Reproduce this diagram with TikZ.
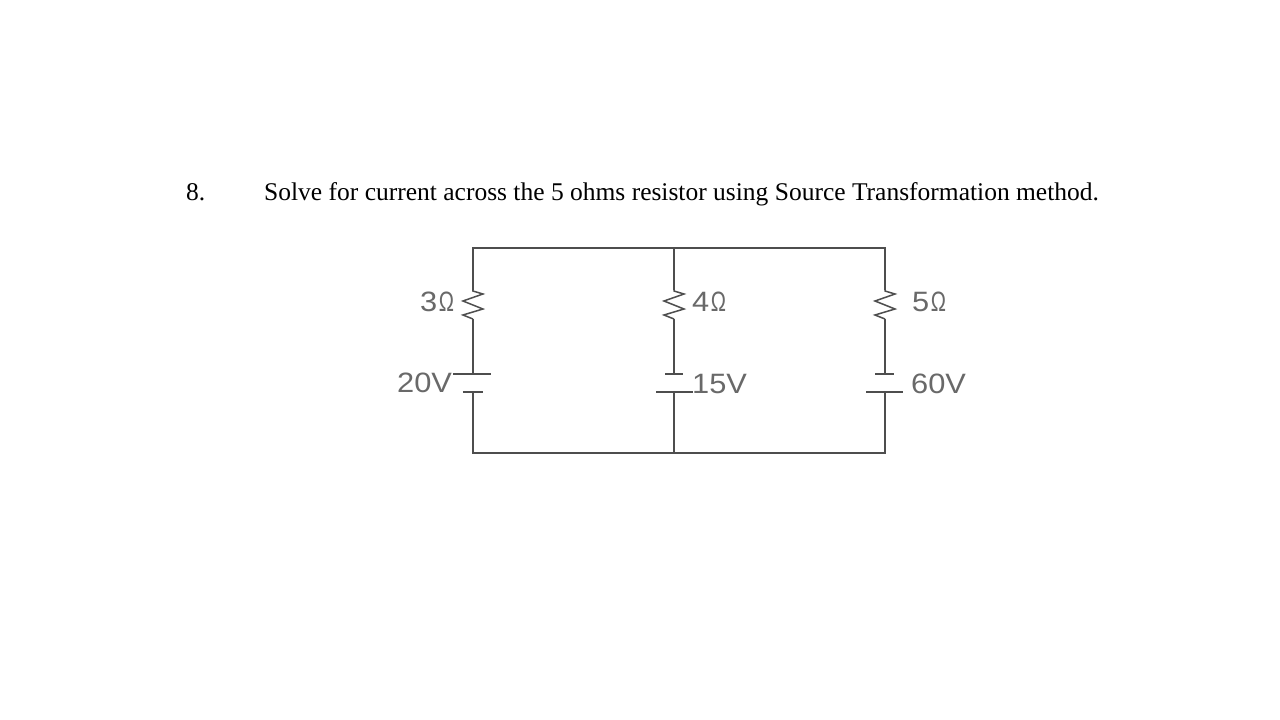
\documentclass[tikz,border=0pt]{standalone}
\usepackage{fontspec}
\setmainfont{Liberation Serif}
\newfontfamily\labelfont[FakeStretch=1.1]{Liberation Sans}
\definecolor{wirecol}{RGB}{78,78,78}
\definecolor{labelcol}{RGB}{105,105,105}
\newcommand{\ohmsign}{\hspace{1.5pt}\scalebox{0.66}[1]{Ω}}
\tikzset{
  wire/.style={draw=wirecol,line width=1.5pt,line join=miter},
  plate/.style={draw=wirecol,line width=1.5pt},
  printed/.style={inner sep=0pt,anchor=base west,text=black,font=\fontsize{25.5}{30}\selectfont},
  complabel/.style={inner sep=0pt,anchor=base west,text=labelcol,font=\labelfont\fontsize{28}{32}\selectfont},
  pics/zig/.style={code={
    \draw[wire] (0,0) -- (0,1) -- (10,4) -- (-10,11) -- (10,19) -- (-10,25) -- (0,29);
  }}
}
\begin{document}
\begin{tikzpicture}[x=1pt,y=-1pt]
\useasboundingbox[fill=white] (0,0) rectangle (1280,720);
% text
\node[printed] (num) at (186,200) {8.};
\node[printed] (task) at (264,200) {Solve for current across the 5 ohms resistor using Source Transformation method.};
% junctions
\coordinate (tl) at (472.9,248);
\coordinate (tm) at (674,248);
\coordinate (tr) at (885,248);
\coordinate (bl) at (472.9,453.1);
\coordinate (bm) at (674,453.1);
\coordinate (br) at (885,453.1);
\coordinate (r1t) at (472.9,290); \coordinate (r1b) at (472.9,319);
\coordinate (r2t) at (674,290);   \coordinate (r2b) at (674,319);
\coordinate (r3t) at (885,290);   \coordinate (r3b) at (885,319);
\coordinate (b1t) at (472.9,374); \coordinate (b1b) at (472.9,392);
\coordinate (b2t) at (674,374);   \coordinate (b2b) at (674,392);
\coordinate (b3t) at (885,374);   \coordinate (b3b) at (885,392);
% wires
\draw[wire] (r1t) -- (tl) -- (tr) -- (r3t);
\draw[wire] (tm) -- (r2t);
\draw[wire] (b1b) -- (bl) -- (br) -- (b3b);
\draw[wire] (bm) -- (b2b);
\draw[wire] (r1b) -- (b1t);
\draw[wire] (r2b) -- (b2t);
\draw[wire] (r3b) -- (b3t);
% resistors
\pic at (r1t) {zig};
\pic at (r2t) {zig};
\pic at (r3t) {zig};
% batteries
\draw[plate] ([xshift=-19.5pt]b1t) -- ([xshift=18.5pt]b1t);
\draw[plate] ([xshift=-10pt]b1b) -- ([xshift=10pt]b1b);
\draw[plate] ([xshift=-9pt]b2t) -- ([xshift=9pt]b2t);
\draw[plate] ([xshift=-18pt]b2b) -- ([xshift=19pt]b2b);
\draw[plate] ([xshift=-10pt]b3t) -- ([xshift=9pt]b3t);
\draw[plate] ([xshift=-19pt]b3b) -- ([xshift=18pt]b3b);
% labels
\node[complabel] (l3) at (420,311) {3\ohmsign};
\node[complabel] (l4) at (692,311) {4\ohmsign};
\node[complabel] (l5) at (912,311) {5\ohmsign};
\node[complabel] (v20) at (397,392) {20V};
\node[complabel] (v15) at (692,393) {15V};
\node[complabel] (v60) at (911,393) {60V};
\end{tikzpicture}
\end{document}
